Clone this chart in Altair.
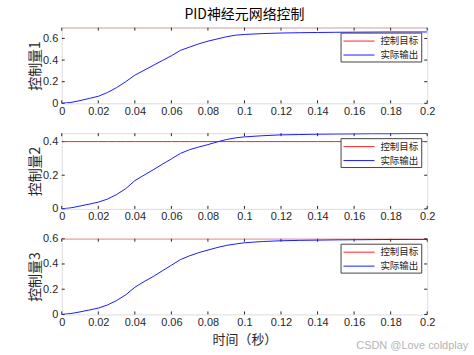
import altair as alt
import pandas as pd

# ---------------- data ----------------
t = [0, 0.005, 0.01, 0.015, 0.02, 0.025, 0.03, 0.035, 0.04, 0.045, 0.05,
     0.055, 0.06, 0.065, 0.07, 0.075, 0.08, 0.085, 0.09, 0.095, 0.1,
     0.11, 0.12, 0.13, 0.14, 0.15, 0.16, 0.17, 0.18, 0.19, 0.2]

y1 = [0, 0.008, 0.025, 0.045, 0.065, 0.1, 0.145, 0.2, 0.26, 0.305, 0.35,
      0.395, 0.44, 0.49, 0.52, 0.55, 0.575, 0.595, 0.615, 0.63, 0.637,
      0.645, 0.65, 0.653, 0.655, 0.657, 0.658, 0.659, 0.66, 0.66, 0.66]
y2 = [0, 0.006, 0.017, 0.028, 0.04, 0.058, 0.085, 0.12, 0.168, 0.2, 0.232,
      0.265, 0.297, 0.33, 0.352, 0.368, 0.382, 0.398, 0.412, 0.422, 0.428,
      0.435, 0.44, 0.442, 0.444, 0.445, 0.446, 0.447, 0.447, 0.448, 0.448]
y3 = [0, 0.007, 0.02, 0.035, 0.05, 0.075, 0.11, 0.155, 0.215, 0.26, 0.3,
      0.345, 0.39, 0.435, 0.465, 0.49, 0.51, 0.53, 0.547, 0.558, 0.568,
      0.578, 0.584, 0.587, 0.589, 0.591, 0.592, 0.593, 0.594, 0.595, 0.595]

targets = [0.7, 0.4, 0.6]
ymaxes = [0.7, 0.45, 0.6]
ytitles = ["控制量1", "控制量2", "控制量3"]
x_ticks = [0, 0.02, 0.04, 0.06, 0.08, 0.1, 0.12, 0.14, 0.16, 0.18, 0.2]
y_ticks = [[0, 0.2, 0.4, 0.6], [0, 0.2, 0.4], [0, 0.2, 0.4, 0.6]]
series = ["控制目标", "实际输出"]
colors = ["#ff2020", "#1a1aff"]
title_text = "PID神经元网络控制"
xlabel = "时间（秒）"
watermark = "CSDN @Love coldplay"

W, H = 367, 76
CJK = "Noto Sans CJK SC"
LAT = "Liberation Sans"
AX = "#262626"
TICK = "#262626"

color_scale = alt.Scale(domain=series, range=colors)


def panel(i, yvals, show_xtitle, title=None, extra=None):
    df = pd.concat([
        pd.DataFrame({"t": t, "v": [targets[i]] * len(t), "s": series[0]}),
        pd.DataFrame({"t": t, "v": yvals, "s": series[1]}),
    ], ignore_index=True)
    xs = alt.Scale(domain=[0, 0.2], nice=False)
    ys = alt.Scale(domain=[0, ymaxes[i]], nice=False)
    xaxis = alt.Axis(values=x_ticks, format="~g", grid=False, domain=False,
                     ticks=False, labelPadding=2, labelFont=LAT,
                     labelFontSize=11, labelColor=AX, labelFlush=False,
                     labelOverlap=False, labelBound=False,
                     title=xlabel if show_xtitle else None,
                     titleFont=CJK, titleFontSize=13, titleFontWeight="normal",
                     titleColor=AX, titlePadding=6)
    yaxis = alt.Axis(values=y_ticks[i], format="~g", grid=False, domain=False,
                     ticks=False, labelPadding=4, labelFont=LAT,
                     labelFontSize=11, labelColor=AX, labelFlush=False,
                     labelOverlap=False, labelBound=False,
                     title=ytitles[i], titleFont=CJK, titleFontSize=14,
                     titleFontWeight="normal", titleColor=AX,
                     titleX=-26, titleY=H / 2, titleAngle=-90,
                     titleAlign="center", titleBaseline="middle")
    lines = alt.Chart(df).mark_line(strokeWidth=1, clip=True).encode(
        x=alt.X("t:Q", scale=xs, axis=xaxis),
        y=alt.Y("v:Q", scale=ys, axis=yaxis),
        color=alt.Color("s:N", scale=color_scale,
                        legend=alt.Legend(orient="none", legendX=280, legendY=5,
                                          title=None, fillColor="white",
                                          strokeColor="#444", padding=2,
                                          symbolType="M-2.6,0H2.6",
                                          symbolSize=144, symbolOffset=10,
                                          symbolStrokeWidth=1,
                                          labelFont=CJK, labelFontSize=9.5,
                                          labelColor=AX, rowPadding=3,
                                          labelOffset=15)),
        detail="s:N",
    )
    xt = pd.DataFrame({"t": x_ticks})
    yt = pd.DataFrame({"v": y_ticks[i]})
    tick_layers = [
        alt.Chart(xt).mark_rule(color=TICK, strokeWidth=1).encode(
            x=alt.X("t:Q", scale=xs, axis=xaxis), y=alt.value(0), y2=alt.value(3)),
        alt.Chart(xt).mark_rule(color=TICK, strokeWidth=1).encode(
            x=alt.X("t:Q", scale=xs, axis=xaxis), y=alt.value(H - 3), y2=alt.value(H)),
        alt.Chart(yt).mark_rule(color=TICK, strokeWidth=1).encode(
            y=alt.Y("v:Q", scale=ys, axis=yaxis), x=alt.value(0), x2=alt.value(3)),
        alt.Chart(yt).mark_rule(color=TICK, strokeWidth=1).encode(
            y=alt.Y("v:Q", scale=ys, axis=yaxis), x=alt.value(W - 3), x2=alt.value(W)),
    ]
    layers = tick_layers + [lines]
    if extra is not None:
        layers.append(extra)
    ch = alt.layer(*layers).properties(width=W, height=H)
    if title is not None:
        ch = ch.properties(title=title)
    return ch


wm = alt.Chart(pd.DataFrame({"w": [watermark]})).mark_text(
    align="center", baseline="middle", color="#b4b4b4", fontSize=11, font=LAT
).encode(x=alt.value(352), y=alt.value(108), text="w:N")

title = alt.TitleParams(title_text, frame="group", anchor="middle", fontSize=14,
                        font=CJK, fontWeight="normal", color="#000000", offset=5)

p1 = panel(0, y1, False, title=title)
p2 = panel(1, y2, False)
p3 = panel(2, y3, True, extra=wm)

chart = alt.vconcat(p1, p2, p3, spacing=30, bounds="flush").resolve_scale(
    x="independent", y="independent"
).resolve_legend(color="independent").properties(
    padding={"left": 28, "top": 7, "right": 5, "bottom": 2}
).configure_view(stroke=AX, strokeWidth=1).configure(background="white")

chart.save("out.html", embed_options={"renderer": "svg", "actions": False})
